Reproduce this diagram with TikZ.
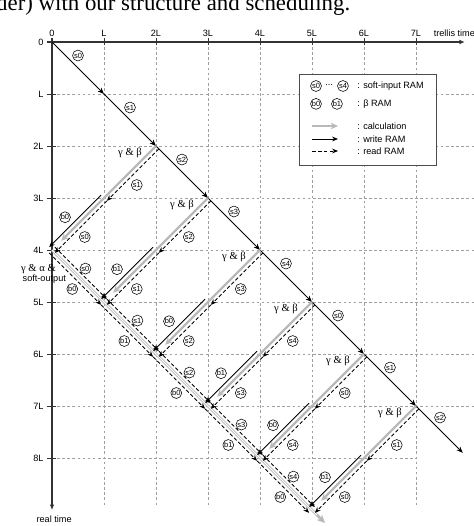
\documentclass[tikz,border=0pt]{standalone}
\usepackage{fontspec}
\setmainfont{Liberation Serif}
\setsansfont{Liberation Sans}
\usetikzlibrary{arrows.meta, calc}
\tikzstyle{ram} = [circle, draw=black, text=black, line width=0.3pt, minimum size=0.21cm, inner sep=0pt, font=\sffamily\fontsize{4.1}{4.5}\selectfont]
\tikzstyle{gridline} = [gray!75, line width=0.3pt, dash pattern=on 1.4pt off 1.4pt]
\tikzstyle{axisline} = [black!80, line width=0.7pt, -{Latex[length=3pt,width=2.6pt]}]
\tikzstyle{lbl} = [font=\sffamily\fontsize{5}{6}\selectfont, inner sep=1pt]
\tikzstyle{gb} = [font=\fontsize{5.8}{6}\selectfont, inner sep=0pt]
\tikzstyle{trellis} = [black, line width=0.5pt, -{Stealth[length=3.5pt,width=2.8pt]}]
\tikzstyle{calcline} = [gray!55, line width=1.2pt, -{Stealth[length=4pt,width=3.6pt]}]
\tikzstyle{writeline} = [black, line width=0.45pt, -{Stealth[length=3.2pt,width=2.6pt]}]
\tikzstyle{readline} = [black, line width=0.45pt, dash pattern=on 2pt off 1.2pt, -{Stealth[length=3.2pt,width=2.6pt]}]

\begin{document}
\begin{tikzpicture}
\useasboundingbox (-1,0.8077) rectangle (8.115,-9.3077);

\node (caption) [anchor=base west, inner sep=0pt, font=\fontsize{12.5}{14}\selectfont] at (-1.08,0.6) {der) with our structure and scheduling.};

% grid
\foreach \i in {1,...,7} \draw[gridline] (\i,0) -- (\i,-8.95);
\foreach \j in {1,...,7} \draw[gridline] (0,-\j) -- (8.115,-\j);
\draw[gridline] (0,-8) -- (7,-8);

% axes
\coordinate (o) at (0,0);
\coordinate (tend) at (7.94,0);
\coordinate (rend) at (0,-9.0);
\draw[axisline] (-0.1,0) -- (tend);
\draw[axisline] (0,0.07) -- (rend);
\foreach \i in {1,...,7} \draw[black!80, line width=0.5pt] (\i,0.08) -- (\i,-0.06);
\foreach \j in {1,...,8} \draw[black!80, line width=0.5pt] (-0.1,-\j) -- (0.08,-\j);
\foreach \i/\t in {0/0,1/L,2/2L,3/3L,4/4L,5/5L,6/6L,7/7L} \node (top\i) [lbl, anchor=south] at (\i,0.07) {\t};
\foreach \j/\t in {0/0,1/L,2/2L,3/3L,4/4L,5/5L,6/6L,7/7L,8/8L} \node (left\j) [lbl, anchor=east] at (-0.12,-\j) {\t};
\node (ttime) [lbl, anchor=south west] at (7.3,0.07) {trellis time};
\node (rtime) [lbl, anchor=north] at (0.04,-9.07) {real time};

% trellis diagonal
\foreach \k in {0,...,7} \coordinate (d\k) at (\k,-\k);
\coordinate (dend) at (7.9,-7.9);
\foreach \a/\b/\s in {0/1/0,1/2/1,2/3/2,3/4/3,4/5/4,5/6/0,6/7/1,7/end/2}
  \draw[trellis] (d\a) -- node (ds\a) [ram, pos=0.38, xshift=0.12cm, yshift=0.12cm] {s\s} (d\b);

% backward windows
\foreach \k in {2,...,7} {
  \coordinate (p\k) at (\k,-\k);
  \coordinate (m\k) at (\k-1,-\k-1);
  \coordinate (e\k) at (\k-2,-\k-2);
}
\coordinate (fend) at (5.25,-9.25);
\draw[gray!55, line width=1.5pt, -{Stealth[length=4.5pt,width=4.2pt]}] (e2) -- (fend);
\draw[white, line width=0.4pt, shorten >=0.22cm] (e2) -- (fend);

\foreach \k in {2,...,7} {
  \pgfmathtruncatemacro{\sa}{mod(\k-1,5)}
  \pgfmathtruncatemacro{\sb}{mod(\k-2,5)}
  \pgfmathtruncatemacro{\bb}{mod(\k,2)}
  \draw[calcline, shorten >=0.25cm] (p\k) -- (e\k);
  \draw[readline, transform canvas={xshift=0.055cm, yshift=-0.055cm}] (p\k) -- (m\k);
  \draw[readline, transform canvas={xshift=0.055cm, yshift=-0.055cm}] (m\k) -- (e\k);
  \draw[writeline, transform canvas={xshift=-0.055cm, yshift=0.055cm}] (m\k) -- (e\k);
  \node (rs\k) [ram] at ($(p\k)!0.56!(m\k)+(0.19,-0.19)$) {s\sa};
  \node (wb\k) [ram] at ($(m\k)!0.56!(e\k)+(-0.19,0.19)$) {b\bb};
  \node (rt\k) [ram] at ($(m\k)!0.56!(e\k)+(0.19,-0.19)$) {s\sb};
  \node (gb\k) [gb] at ($(p\k)+(-0.5,-0.135)$) {γ \& β};
}

% forward pass
\foreach \k in {2,...,6} {
  \pgfmathtruncatemacro{\n}{\k+1}
  \pgfmathtruncatemacro{\sb}{mod(\k-2,5)}
  \pgfmathtruncatemacro{\bb}{mod(\k,2)}
  \draw[readline, transform canvas={xshift=0.055cm, yshift=0.055cm}] (e\k) -- (e\n);
  \draw[readline, transform canvas={xshift=-0.055cm, yshift=-0.055cm}] (e\k) -- (e\n);
  \node (fs\k) [ram] at ($(e\k)!0.5!(e\n)+(0.143,0.143)$) {s\sb};
  \node (fb\k) [ram] at ($(e\k)!0.57!(e\n)+(-0.18,-0.18)$) {b\bb};
}
\node (ga) [gb, anchor=west] at (-0.6,-4.36) {γ \& α \&};
\node (so) [lbl, anchor=west, inner sep=0pt] at (-0.57,-4.56) {soft-output};

% legend
\node (legend) [draw=black!70, fill=white, line width=0.4pt, minimum width=2.635cm, minimum height=1.75cm, inner sep=0pt] at (6.0675,-1.49) {};
\node (ls0) [ram] at (5.077,-0.846) {s0};
\node (ldots) [lbl] at (5.33,-0.83) {...};
\node (ls4) [ram] at (5.596,-0.846) {s4};
\node (lt1) [lbl, anchor=west] at (5.83,-0.846) {: soft-input RAM};
\node (lb0) [ram] at (5.077,-1.19) {b0};
\node (lb1) [ram] at (5.48,-1.19) {b1};
\node (lt2) [lbl, anchor=west] at (5.83,-1.19) {: β RAM};
\coordinate (lc1) at (5.0,-1.615);
\coordinate (lc2) at (5.5,-1.615);
\draw[calcline, line width=1.5pt] (lc1) -- (lc2);
\node (lt3) [lbl, anchor=west] at (5.83,-1.615) {: calculation};
\coordinate (lw1) at (5.0,-1.865);
\coordinate (lw2) at (5.5,-1.865);
\draw[writeline] (lw1) -- (lw2);
\node (lt4) [lbl, anchor=west] at (5.83,-1.865) {: write RAM};
\coordinate (lr1) at (5.0,-2.096);
\coordinate (lr2) at (5.5,-2.096);
\draw[readline] (lr1) -- (lr2);
\node (lt5) [lbl, anchor=west] at (5.83,-2.096) {: read RAM};

\end{tikzpicture}
\end{document}
